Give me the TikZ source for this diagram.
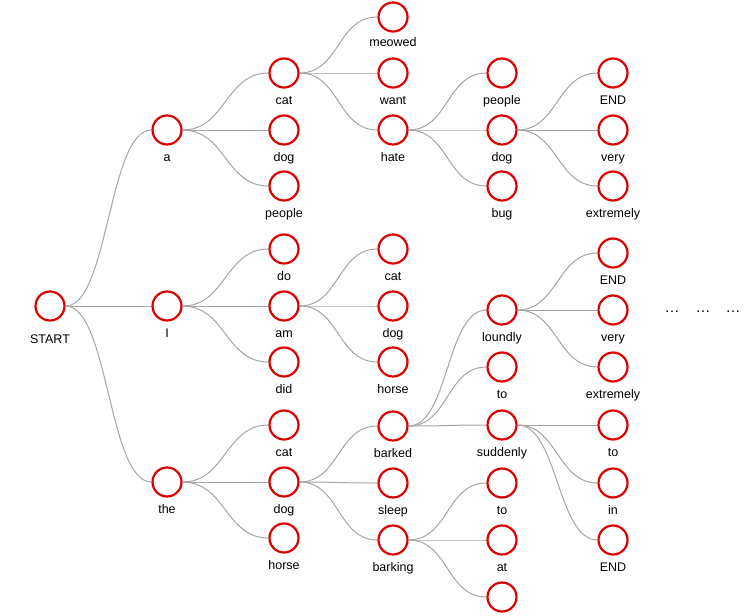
\documentclass[tikz,border=0pt]{standalone}
\usepackage{fontspec}
\setmainfont{Liberation Sans}
\usetikzlibrary{calc}
\definecolor{ringred}{RGB}{220,0,0}
\definecolor{linkgray}{RGB}{165,165,165}
\tikzset{
  word/.style={circle, draw=ringred, line width=2.2pt, fill=white, minimum size=29pt, inner sep=0pt},
  lbl/.style={anchor=base, inner sep=0pt, font=\fontsize{12.5}{14}\selectfont},
  dotlbl/.style={anchor=base, inner sep=0pt, font=\fontsize{15}{16}\selectfont},
  wire/.style={draw=linkgray, line width=1pt},
  link/.style={to path={.. controls +(#1,0) and +(-#1,0) .. (\tikztotarget)}},
  link/.default=40
}
\newcommand{\wnode}[5][31]{%
  \node[word] (#2) at (#3,#4) {};
  \node[lbl] (#2-t) at ($(#2.center)+(0,#1)$) {#5};
}
\begin{document}
\begin{tikzpicture}[x=1pt,y=-1pt]
\useasboundingbox (0,0) rectangle (750,616);
% column 0
\wnode[37]{start}{50}{306}{START}
% column 1
\wnode{a}{167}{130}{a}
\wnode{i}{167}{306}{I}
\wnode{the}{167}{482}{the}
% column 2
\wnode{catA}{284}{73}{cat}
\wnode{dogA}{284}{130}{dog}
\wnode{peopleA}{284}{186}{people}
\wnode{do}{284}{249}{do}
\wnode{am}{284}{306}{am}
\wnode{did}{284}{362}{did}
\wnode{catB}{284}{425}{cat}
\wnode{dogB}{284}{482}{dog}
\wnode{horseB}{284}{538}{horse}
% column 3
\wnode[29]{meowed}{393}{17}{meowed}
\wnode{want}{393}{73}{want}
\wnode{hate}{393}{130}{hate}
\wnode{catC}{393}{249}{cat}
\wnode{dogC}{393}{306}{dog}
\wnode{horseC}{393}{362}{horse}
\wnode{barked}{393}{426}{barked}
\wnode{sleep}{393}{483}{sleep}
\wnode{barking}{393}{540}{barking}
% column 4
\wnode{peopleD}{502}{73}{people}
\wnode{dogD}{502}{130}{dog}
\wnode{bug}{502}{186}{bug}
\wnode{loundly}{502}{310}{loundly}
\wnode{toD}{502}{367}{to}
\wnode{suddenly}{502}{425}{suddenly}
\wnode{toE}{502}{483}{to}
\wnode{at}{502}{540}{at}
\node[word] (blank) at (502,597) {};
% column 5
\wnode{endA}{613}{73}{END}
\wnode{veryA}{613}{130}{very}
\wnode{extA}{613}{186}{extremely}
\wnode{endB}{613}{253}{END}
\wnode{veryB}{613}{310}{very}
\wnode{extB}{613}{367}{extremely}
\wnode{toF}{613}{425}{to}
\wnode{in}{613}{483}{in}
\wnode{endC}{613}{540}{END}
% dots
\node[dotlbl] (dots1) at (672,312) {\ldots};
\node[dotlbl] (dots2) at (703,312) {\ldots};
\node[dotlbl] (dots3) at (733,312) {\ldots};
% links
\foreach \p/\c in {start/a,start/i,start/the,
  a/catA,a/dogA,a/peopleA,i/do,i/am,i/did,the/catB,the/dogB,the/horseB}
  \draw[wire] (\p.east) to[link=43] (\c.west);
\foreach \p/\c in {catA/meowed,catA/want,catA/hate,am/catC,am/dogC,am/horseC,
  dogB/barked,dogB/sleep,dogB/barking,
  hate/peopleD,hate/dogD,hate/bug,barked/loundly,barked/toD,barked/suddenly,
  barking/toE,barking/at,barking/blank,
  dogD/endA,dogD/veryA,dogD/extA,loundly/endB,loundly/veryB,loundly/extB,
  suddenly/toF,suddenly/in,suddenly/endC}
  \draw[wire] (\p.east) to[link=40] (\c.west);
\end{tikzpicture}
\end{document}
